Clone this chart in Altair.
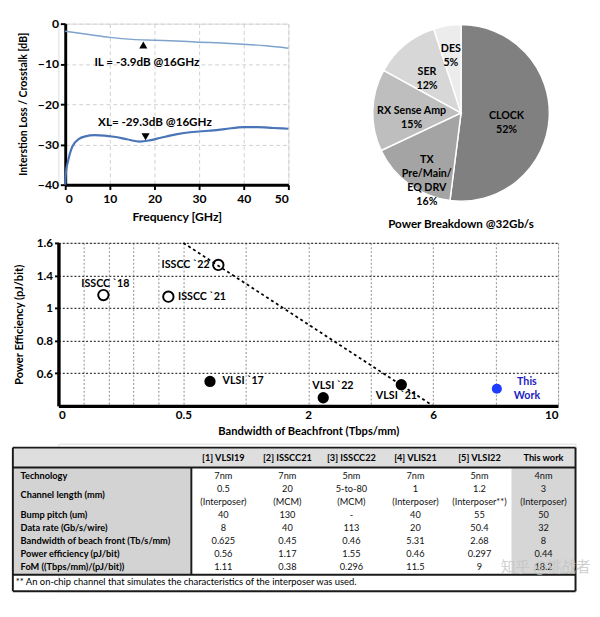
import altair as alt
import pandas as pd

FONT = "Lato"

# ---------------- Chart 1: insertion loss / crosstalk ----------------
il_freq = [0, 5.3, 10, 15, 20, 25, 30, 35, 40, 45, 50]
il_db = [-1.9, -2.7, -3.4, -3.9, -4.1, -4.3, -4.6, -4.8, -5.1, -5.5, -6.1]
xl_freq = [0, 0.15, 0.6, 1.6, 3.1, 4.5, 6.6, 8.8, 10.9, 13.8, 16.7, 18.9, 21.2,
           24.8, 28.5, 32.1, 35.7, 40, 43, 46.6, 50]
xl_db = [-40, -37.0, -34.3, -30.5, -28.6, -28.0, -27.7, -27.8, -28.1, -28.7, -29.3,
         -29.0, -28.4, -27.5, -26.9, -26.6, -26.2, -25.7, -25.7, -25.9, -26.1]
marker_freq = [17.5, 18.0]
marker_db = [-5.3, -28.1]
marker_shape = ["triangle-up", "triangle-down"]
note_text = ["IL = -3.9dB @16GHz", "XL= -29.3dB @16GHz"]
note_freq = [18.3, 20.1]
note_db = [-9.5, -24.4]

# ---------------- Chart 2: power breakdown pie ----------------
pie_names = ["CLOCK", "TX\nPre/Main/\nEQ DRV", "RX Sense Amp", "SER", "DES"]
pie_pct = [52, 16, 15, 12, 5]
pie_colors = ["#808080", "#a4a4a4", "#bebebe", "#d7d7d7", "#ececec"]

# ---------------- Chart 3: power efficiency vs beachfront ----------------
sc_names = ["ISSCC `18", "ISSCC `21", "ISSCC `22", "VLSI `17", "VLSI `22", "VLSI `21", "This\nWork"]
sc_bw = [0.18, 0.44, 0.92, 0.82, 2.48, 4.98, 8.04]
sc_pe = [1.16, 1.14, 1.465, 0.55, 0.45, 0.53, 0.505]
sc_kind = ["open", "open", "open", "filled", "filled", "filled", "this"]
trend_bw = [0.5, 6]
trend_pe = [1.6, 0.4]

# ---------------- Table ----------------
tbl_cols = ["[1] VLSI19", "[2] ISSCC21", "[3] ISSCC22", "[4] VLIS21", "[5] VLSI22", "This work"]
row_labels = ["Technology", "Channel length (mm)", "Bump pitch (um)", "Data rate (Gb/s/wire)",
              "Bandwidth of beach front (Tb/s/mm)", "Power efficiency (pJ/bit)",
              "FoM ((Tbps/mm)/(pJ/bit))"]
technology = ["7nm", "7nm", "5nm", "7nm", "5nm", "4nm"]
channel_len = ["0.5", "20", "5-to-80", "1", "1.2", "3"]
channel_medium = ["(Interposer)", "(MCM)", "(MCM)", "(Interposer)", "(Interposer**)", "(Interposer)"]
bump = ["40", "130", "-", "40", "55", "50"]
data_rate = ["8", "40", "113", "20", "50.4", "32"]
bw_front = ["0.625", "0.45", "0.46", "5.31", "2.68", "8"]
power_eff = ["0.56", "1.17", "1.55", "0.46", "0.297", "0.44"]
fom = ["1.11", "0.38", "0.296", "11.5", "9", "18.2"]
footnote = "** An on-chip channel that simulates the characteristics of the interposer was used."
watermark = "知乎 @挑战者"

ax_common = dict(labelFont=FONT, titleFont=FONT, labelFontWeight="bold", titleFontWeight="bold",
                 labelColor="black", titleColor="black", domainColor="black", tickColor="black")

# ======== Chart 1 ========
SHIFT1 = 7
W1, H1 = 230 + SHIFT1, 166
fx = alt.Scale(domain=[0, 50], nice=False, range=[SHIFT1, W1])
fy = alt.Scale(domain=[-40, 0], nice=False)
X1 = alt.X("f:Q", scale=fx, axis=alt.Axis(
    values=[0, 10, 20, 30, 40, 50], title="Frequency [GHz]", grid=True, gridColor="#cfcfcf",
    gridDash=[4, 3], domainWidth=3, tickWidth=2, tickSize=5, labelFontSize=12.5,
    titleFontSize=12.5, labelPadding=3, titlePadding=6, **ax_common))
Y1 = alt.Y("db:Q", scale=fy, axis=alt.Axis(
    values=[-40, -30, -20, -10, 0], title="", grid=True,
    gridColor="#cfcfcf", gridDash=[4, 3], domainWidth=3, tickWidth=2, tickSize=5, offset=-SHIFT1,
    labelFontSize=12.5, labelPadding=2, **ax_common))

il_df = pd.DataFrame({"f": il_freq, "db": il_db})
xl_df = pd.DataFrame({"f": xl_freq, "db": xl_db})
mk_df = pd.DataFrame({"f": marker_freq, "db": marker_db, "shape": marker_shape})
nt_df = pd.DataFrame({"f": note_freq, "db": note_db, "t": note_text})

il_line = alt.Chart(il_df).mark_line(color="#7ea2cc", strokeWidth=1.5, interpolate="monotone").encode(x=X1, y=Y1)
xl_line = alt.Chart(xl_df).mark_line(color="#4a74b8", strokeWidth=2.2, interpolate="monotone").encode(x=X1, y=Y1)
markers = alt.Chart(mk_df).mark_point(filled=True, color="black", size=70, opacity=1).encode(
    x=X1, y=Y1, shape=alt.Shape("shape:N", scale=None))
notes = alt.Chart(nt_df).mark_text(font=FONT, fontSize=12, fontWeight="bold", color="black").encode(
    x=X1, y=Y1, text="t:N")
line_chart = alt.layer(il_line, xl_line, markers, notes).properties(
    width=W1, height=H1,
    title=alt.TitleParams("Interstion Loss / Crosstalk [dB]", orient="left", anchor="middle",
                          frame="group", font=FONT, fontSize=10.8, fontWeight="bold",
                          color="black", offset=9),
)

# ======== Chart 2 ========
pie_df = pd.DataFrame({"name": pie_names, "pct": pie_pct, "idx": list(range(len(pie_names)))})
theta_scale = alt.Scale(domain=[0, 100])
pie_base = alt.Chart(pie_df)
arcs = pie_base.mark_arc(outerRadius=91, stroke="white", strokeWidth=1.5).encode(
    theta=alt.Theta("pct:Q", stack=True, scale=theta_scale),
    order=alt.Order("idx:Q"),
    color=alt.Color("name:N", scale=alt.Scale(domain=pie_names, range=pie_colors), legend=None),
)
lbl_base = pie_base.transform_window(
    cum="sum(pct)", sort=[alt.SortField("idx")]
).transform_calculate(
    mid="datum.cum - datum.pct / 2", label="datum.name + '\\n' + datum.pct + '%'"
)
label_radius = {"CLOCK": 47, "TX\nPre/Main/\nEQ DRV": 60, "RX Sense Amp": 51, "SER": 55, "DES": 67}
pie_labels = []
for nm in pie_names:
    pie_labels.append(
        lbl_base.transform_filter(alt.datum.name == nm).mark_text(
            radius=label_radius[nm], font=FONT, fontSize=11, fontWeight="bold", color="black",
            lineBreak="\n", lineHeight=14.5
        ).encode(theta=alt.Theta("mid:Q", stack=False, scale=theta_scale), text="label:N")
    )
pie_chart = alt.layer(arcs, *pie_labels).properties(
    width=200, height=184,
    title=alt.TitleParams("Power Breakdown @32Gb/s", orient="bottom", font=FONT, fontSize=12,
                          fontWeight="bold", color="black", offset=13, anchor="middle"),
)

# ======== Chart 3 ========
W2, H2 = 515, 168
sx = alt.Scale(domain=[0, 0.5, 2, 6, 10], range=[0, W2 / 4, W2 / 2, 3 * W2 / 4, W2])
sy = alt.Scale(domain=[0.4, 0.6, 0.8, 1.0, 1.4, 1.6],
               range=[H2, H2 * 0.8, H2 * 0.6, H2 * 0.4, H2 * 0.2, 0])
X2 = alt.X("bw:Q", scale=sx, axis=alt.Axis(
    values=[0, 0.1, 0.2, 0.3, 0.4, 0.5, 1.25, 2, 4, 6, 8, 10],
    labelExpr="datum.value == 0.5 ? '0.5' : (indexof([0, 2, 6, 10], datum.value) >= 0 ? '' + datum.value : '')",
    title="Bandwidth of Beachfront (Tbps/mm)", grid=True, gridColor="#a0a0a0", gridDash=[2, 2],
    gridWidth=1.2, ticks=False, domainWidth=3.5, labelFontSize=12, titleFontSize=11.5,
    labelPadding=4, titlePadding=6, **ax_common))
Y2 = alt.Y("pe:Q", scale=sy, axis=alt.Axis(
    values=[0.6, 0.8, 1.0, 1.4, 1.6],
    labelExpr="'' + datum.value",
    title="Power Efficiency (pJ/bit)", grid=True,
    gridColor="#3a3a3a", gridDash=[2, 2], gridWidth=1.2, tickSize=4, tickWidth=2,
    domainWidth=3.5, labelFontSize=12, titleFontSize=11.5, labelPadding=2, titlePadding=12,
    **ax_common))

sc_df = pd.DataFrame({"name": sc_names, "bw": sc_bw, "pe": sc_pe, "kind": sc_kind})
tr_df = pd.DataFrame({"bw": trend_bw, "pe": trend_pe})
trend = alt.Chart(tr_df).mark_line(color="black", strokeDash=[3, 3], strokeWidth=1.8).encode(x=X2, y=Y2)
sc_base = alt.Chart(sc_df)
open_pts = sc_base.transform_filter(alt.datum.kind == "open").mark_point(
    shape="circle", filled=False, color="black", strokeWidth=2, size=115, opacity=1).encode(x=X2, y=Y2)
fill_pts = sc_base.transform_filter(alt.datum.kind == "filled").mark_circle(
    color="black", size=135, opacity=1).encode(x=X2, y=Y2)
this_pts = sc_base.transform_filter(alt.datum.kind == "this").mark_circle(
    color="#1f3dff", size=110, opacity=1).encode(x=X2, y=Y2)

label_style = {
    "ISSCC `18": ("center", 2, -11, "black"),
    "ISSCC `21": ("left", 10, 0, "black"),
    "ISSCC `22": ("right", -9, 0, "black"),
    "VLSI `17": ("left", 13, 0, "black"),
    "VLSI `22": ("center", 10, -12, "black"),
    "VLSI `21": ("center", -5, 12, "black"),
    "This\nWork": ("center", 31, -7, "#2323c0"),
}
sc_labels = []
for nm in sc_names:
    al, dx, dy, col = label_style[nm]
    sc_labels.append(
        sc_base.transform_filter(alt.datum.name == nm).mark_text(
            align=al, dx=dx, dy=dy, font=FONT, fontSize=11, fontWeight="bold", color=col,
            lineBreak="\n", lineHeight=15
        ).encode(x=X2, y=Y2, text="name:N")
    )
scatter = alt.layer(trend, open_pts, fill_pts, this_pts, *sc_labels).properties(width=W2, height=H2)

# ======== Table ========
TLEFT = 47
TOP_PAD = 4
TW, TH = 533, 152
tx = alt.Scale(domain=[0, 1, 7], range=[-TLEFT, 184 - TLEFT, TW])
ty = alt.Scale(domain=[-0.4, 0.35, 8.6, 9.5], range=[TOP_PAD, TOP_PAD + 20.5, TOP_PAD + 131, TH])

head_cells = [{"c": k + 1.5, "line": 0, "t": c} for k, c in enumerate(tbl_cols)]
value_rows = [technology, channel_len, channel_medium, bump, data_rate, bw_front, power_eff, fom]
val_cells = []
for ln, vals in enumerate(value_rows, start=1):
    for k, v in enumerate(vals):
        val_cells.append({"c": k + 1.5, "line": ln, "t": v})
label_lines = [1, 2.5, 4, 5, 6, 7, 8]
lab_cells = [{"c": 0, "line": ln, "t": t} for ln, t in zip(label_lines, row_labels)]
foot_cells = [{"c": 0, "line": 9, "t": footnote}]
wm_cells = [{"c": 5.0, "line": 8.0, "t": watermark}]

bg_df = pd.DataFrame([
    {"x": 0, "x2": 7, "y": -0.4, "y2": 0.35, "fill": "#dedede"},
    {"x": 0, "x2": 1, "y": 0.35, "y2": 8.6, "fill": "#d3d3d3"},
    {"x": 6, "x2": 7, "y": 0.35, "y2": 8.6, "fill": "#d6d6d6"},
])
rule_df = pd.DataFrame([
    {"x": 0, "x2": 7, "y": -0.4, "y2": -0.4},
    {"x": 0, "x2": 7, "y": 0.35, "y2": 0.35},
    {"x": 0, "x2": 7, "y": 8.6, "y2": 8.6},
    {"x": 0, "x2": 7, "y": 9.5, "y2": 9.5},
    {"x": 0, "x2": 0, "y": -0.4, "y2": 9.5},
    {"x": 7, "x2": 7, "y": -0.4, "y2": 9.5},
    {"x": 1, "x2": 1, "y": 0.35, "y2": 8.6},
])

TX_ = alt.X("x:Q", scale=tx, axis=None)
TY_ = alt.Y("y:Q", scale=ty, axis=None)
bg = alt.Chart(bg_df).mark_rect().encode(x=TX_, x2="x2:Q", y=TY_, y2="y2:Q",
                                         fill=alt.Fill("fill:N", scale=None))
rules = alt.Chart(rule_df).mark_rule(color="#1a1a1a", strokeWidth=2).encode(
    x=TX_, x2="x2:Q", y=TY_, y2="y2:Q")

CX = alt.X("c:Q", scale=tx, axis=None)
CY = alt.Y("line:Q", scale=ty, axis=None)
head_txt = alt.Chart(pd.DataFrame(head_cells)).mark_text(
    font=FONT, fontSize=9.5, fontWeight="bold", color="black").encode(x=CX, y=CY, text="t:N")
val_txt = alt.Chart(pd.DataFrame(val_cells)).mark_text(
    font=FONT, fontSize=9.5, color="#111111").encode(x=CX, y=CY, text="t:N")
lab_txt = alt.Chart(pd.DataFrame(lab_cells)).mark_text(
    font=FONT, fontSize=9.5, fontWeight="bold", color="black", align="left", dx=8).encode(
    x=CX, y=CY, text="t:N")
foot_txt = alt.Chart(pd.DataFrame(foot_cells)).mark_text(
    font=FONT, fontSize=9.7, color="black", align="left", dx=3).encode(x=CX, y=CY, text="t:N")
wm_txt = alt.Chart(pd.DataFrame(wm_cells)).mark_text(
    font="Noto Sans CJK SC", fontSize=15, color="#c4c4c4", opacity=0.8, align="left", dx=55).encode(
    x=CX, y=CY, text="t:N")

table = alt.layer(bg, rules, head_txt, val_txt, lab_txt, foot_txt, wm_txt).properties(width=TW, height=TH)

# ======== Compose ========
row1 = alt.hconcat(line_chart, pie_chart, spacing=73)
chart = alt.vconcat(row1, scatter, table, spacing=5).properties(
    padding={"left": 3, "top": 0, "right": 0, "bottom": 0}
).configure_view(stroke="transparent", strokeWidth=0, strokeOpacity=0).configure(
    font=FONT, background="white")

chart.save("out.html", embed_options={"renderer": "svg", "actions": False})
